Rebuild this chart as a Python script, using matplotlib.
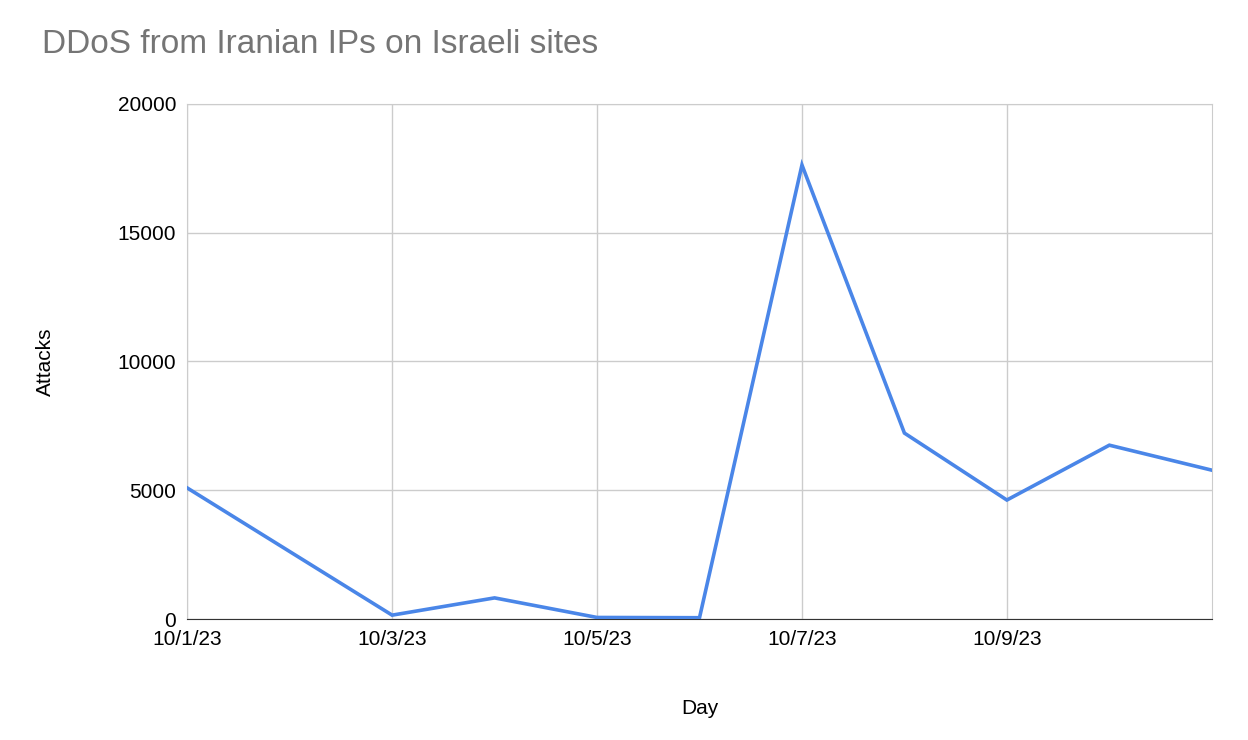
import numpy as np
import pandas as pd
import matplotlib.pyplot as plt
import matplotlib.dates as mdates

# 10/2 has no data point in the source chart
days = ["2023-10-01", "2023-10-03", "2023-10-04", "2023-10-05", "2023-10-06",
        "2023-10-07", "2023-10-08", "2023-10-09", "2023-10-10", "2023-10-11"]
attacks = [5090, 150, 820, 60, 50, 17630, 7220, 4620, 6750, 5780]

yticks = [0, 5000, 10000, 15000, 20000]

dates = pd.to_datetime(days)

plt.rcParams['font.family'] = ['Liberation Sans', 'DejaVu Sans']
fig = plt.figure(figsize=(12.48, 7.4), dpi=100)
ax = fig.add_axes([0.15, 0.1635, 0.821, 0.696])

ax.plot(dates, attacks, color='#4a86e8', linewidth=2.6, solid_joinstyle='miter', zorder=3)

ax.set_xlim(dates[0], dates[-1])
ax.set_ylim(0, 20000)
ax.set_yticks(yticks)
ax.set_yticklabels([str(v) for v in yticks])
ax.xaxis.set_major_locator(mdates.DayLocator(bymonthday=[1, 3, 5, 7, 9]))
ax.xaxis.set_major_formatter(mdates.DateFormatter('%-m/%-d/%y'))

ax.grid(True, color='#cccccc', linewidth=1)
ax.set_axisbelow(True)
for s in ['top', 'right', 'left']:
    ax.spines[s].set_color('#cccccc')
ax.spines['bottom'].set_color('#333333')
ax.tick_params(length=0, labelsize=15, pad=8)

ax.set_xlabel('Day', fontsize=15, labelpad=36)
ax.set_ylabel('Attacks', fontsize=15, labelpad=45)
fig.text(0.034, 0.94, 'DDoS from Iranian IPs on Israeli sites', fontsize=24,
         color='#757575', va='center')

fig.savefig('out.png', dpi=100)
